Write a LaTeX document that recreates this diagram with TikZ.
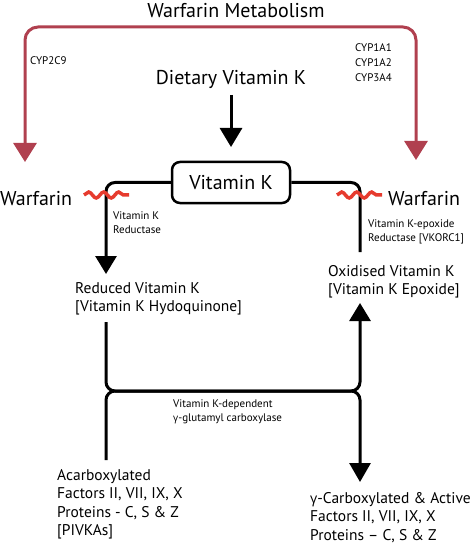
\documentclass[tikz,border=0pt]{standalone}
\usepackage{fontspec}
\setmainfont{PT Sans}
\newfontfamily\grk{Open Sans}
\usetikzlibrary{arrows.meta,decorations.pathmorphing}
\definecolor{metred}{HTML}{B0404F}
\definecolor{squigred}{HTML}{E63B2E}
\tikzset{
  big/.style={font=\fontsize{20}{24}\selectfont, inner sep=0pt},
  mid/.style={font=\fontsize{15.5}{18.8}\selectfont, inner sep=0pt, align=left},
  small/.style={font=\fontsize{11}{14.5}\selectfont, inner sep=0pt, align=left},
  metline/.style={draw=metred, line width=3pt, rounded corners=13pt, {Triangle[width=23pt,length=19pt]}-{Triangle[width=23pt,length=19pt]}},
  blkarrow/.style={draw=black, line width=3pt, -{Triangle[width=22pt,length=19pt]}},
  blkline/.style={draw=black, line width=3pt, rounded corners=9pt},
  vkbox/.style={draw=black, line width=2.5pt, rounded corners=8pt, minimum width=118pt, minimum height=41pt, font=\fontsize{20}{24}\selectfont, inner sep=0pt},
  squig/.style={draw=squigred, line width=3.5pt, decorate, decoration={snake, amplitude=3pt, segment length=15pt}}
}
\begin{document}
\begin{tikzpicture}[x=1pt,y=-1pt]
\useasboundingbox (0,0) rectangle (474,545);
% titles
\node[big, anchor=base] (title) at (236,18) {Warfarin Metabolism};
\node[small, anchor=base west] (cyp2c9) at (30,65) {CYP2C9};
\node[small, anchor=base west] (cyp1a1) at (355,52) {CYP1A1};
\node[small, anchor=base west] (cyp1a2) at (355,67) {CYP1A2};
\node[small, anchor=base west] (cyp3a4) at (355,82) {CYP3A4};
\node[big, anchor=base] (dietary) at (231,85) {Dietary Vitamin K};
% Vitamin K box
\node[vkbox] (vk) at (231,182.5) {Vitamin K};
% Warfarin labels
\node[big, anchor=base west] (warfL) at (0,205) {Warfarin};
\node[big, anchor=base west] (warfR) at (388,205) {Warfarin};
% enzyme labels
\node[small, anchor=base west] (vkr1) at (113,219) {Vitamin K};
\node[small, anchor=base west] (vkr2) at (113,233.5) {Reductase};
\node[small, anchor=base west] (vkor1) at (368,227) {Vitamin K-epoxide};
\node[small, anchor=base west] (vkor2) at (368,241.5) {Reductase [VKORC1]};
% intermediate forms
\node[mid, anchor=base west] (red1) at (75,293) {Reduced Vitamin K};
\node[mid, anchor=base west] (red2) at (75,311.5) {[Vitamin K Hydoquinone]};
\node[mid, anchor=base west] (oxi1) at (328,276) {Oxidised Vitamin K};
\node[mid, anchor=base west] (oxi2) at (328,294.5) {[Vitamin K Epoxide]};
% carboxylase
\node[small, anchor=base west] (gc1) at (173,407) {Vitamin K-dependent};
\node[small, anchor=base west] (gc2) at (173,421.5) {{\grk\fontsize{10}{14}\selectfont γ}-glutamyl carboxylase};
% products
\node[mid, anchor=base west] (ac1) at (57,480) {Acarboxylated};
\node[mid, anchor=base west] (ac2) at (57,498.5) {Factors II, VII, IX, X};
\node[mid, anchor=base west] (ac3) at (57,517) {Proteins - C, S \& Z};
\node[mid, anchor=base west] (ac4) at (57,535.5) {[PIVKAs]};
\node[mid, anchor=base west] (gca1) at (310,503) {{\grk\fontsize{14}{18}\selectfont γ}-Carboxylated \& Active};
\node[mid, anchor=base west] (gca2) at (310,521.5) {Factors II, VII, IX, X};
\node[mid, anchor=base west] (gca3) at (310,540) {Proteins – C, S \& Z};
% coordinates
\coordinate (mL) at (25,162);
\coordinate (mR) at (416,160);
\coordinate (dTip) at (231,147);
\coordinate (dStart) at (231,95);
\coordinate (redTip) at (106,274);
\coordinate (oxiEnd) at (360,252);
\coordinate (redStart) at (106,322);
\coordinate (junL) at (106,391);
\coordinate (junR) at (360,391);
\coordinate (oxiTip) at (360,303);
\coordinate (acEnd) at (106,460);
\coordinate (gcaTip) at (360,482);
% metabolism arrow (both ends)
\draw[metline] (mL) -- (25,27) -- (416,27) -- (mR);
% dietary arrow
\draw[blkarrow] (dStart) -- (dTip);
% cycle
\draw[blkline, -{Triangle[width=21pt,length=18pt]}] (vk.west) -- (106,182.5) -- (redTip);
\draw[blkline] (vk.east) -- (360,182.5) -- (oxiEnd);
\draw[blkline, -{Triangle[width=21pt,length=18pt]}] (redStart) -- (junL) -- (junR) -- (oxiTip);
\draw[blkline, -{Triangle[width=21pt,length=19pt]}] (acEnd) -- (junL) -- (junR) -- (gcaTip);
% warfarin squiggles
\draw[squig] (84,195) -- (129,195);
\draw[squig] (337,195) -- (382,195);
\end{tikzpicture}
\end{document}
